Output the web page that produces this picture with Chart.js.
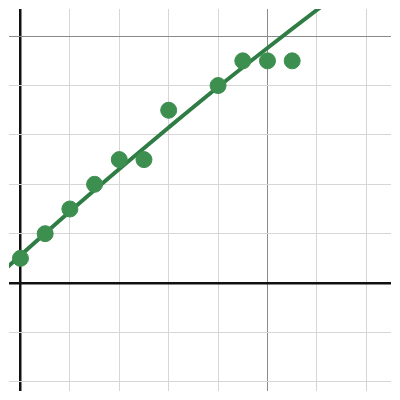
<!DOCTYPE html>
<html>
<head>
<script src="https://cdn.jsdelivr.net/npm/chart.js@4"></script>
<style>html,body{margin:0;padding:0;background:#fff}#c{width:400px;height:400px}</style>
</head>
<body>
<div id="c"><canvas id="chart" width="400" height="400"></canvas></div>
<script>
// scatter points
const pointX = [0, 0.5, 1, 1.5, 2, 2.5, 3, 4, 4.5, 5, 5.5];
const pointY = [0.5, 1, 1.5, 2, 2.5, 2.5, 3.5, 4, 4.5, 4.5, 4.5];
// fitted curve
const curveX = [-0.5, 0, 1, 2, 3, 4, 5, 6, 6.5];
const curveY = [0.11, 0.56, 1.45, 2.31, 3.15, 3.97, 4.76, 5.53, 5.9];

const green = "#3d8f50";

function integerTicks(scale) {
    const ticks = [];
    for (let v = Math.ceil(scale.min); v <= Math.floor(scale.max); v++) ticks.push({value: v});
    scale.ticks = ticks;
}
function gridColor(ctx) {
    const v = ctx.tick && ctx.tick.value;
    if (v === 0) return "#111";
    if (v % 5 === 0) return "#8a8a8a";
    return "#d6d6d6";
}
function gridWidth(ctx) {
    return ctx.tick && ctx.tick.value === 0 ? 2.5 : 1;
}
const axisOpts = (min, max) => ({
    type: "linear", min: min, max: max,
    afterBuildTicks: integerTicks,
    afterFit: function (scale) {
        if (scale.isHorizontal()) scale.height = 0; else scale.width = 0;
        scale.paddingLeft = scale.paddingRight = scale.paddingTop = scale.paddingBottom = 0;
    },
    ticks: {display: false, padding: 0},
    border: {display: false},
    grid: {color: gridColor, lineWidth: gridWidth, drawTicks: false, tickLength: 0}
});

new Chart(document.getElementById("chart").getContext("2d"), {
    type: "scatter",
    data: {
        datasets: [{
            data: pointX.map((x, i) => ({x: x, y: pointY[i]})),
            backgroundColor: green, borderColor: green,
            pointRadius: 8, pointHoverRadius: 8
        }, {
            type: "line",
            data: curveX.map((x, i) => ({x: x, y: curveY[i]})),
            borderColor: "#2f7d45", borderWidth: 4,
            pointRadius: 0, tension: 0.4, fill: false
        }]
    },
    options: {
        responsive: false, animation: false,
        layout: {padding: 0},
        plugins: {legend: {display: false}, tooltip: {enabled: false}},
        scales: {
            x: axisOpts(-0.232, 7.5),
            y: axisOpts(-2.186, 5.55)
        }
    }
});
</script>
</body>
</html>
